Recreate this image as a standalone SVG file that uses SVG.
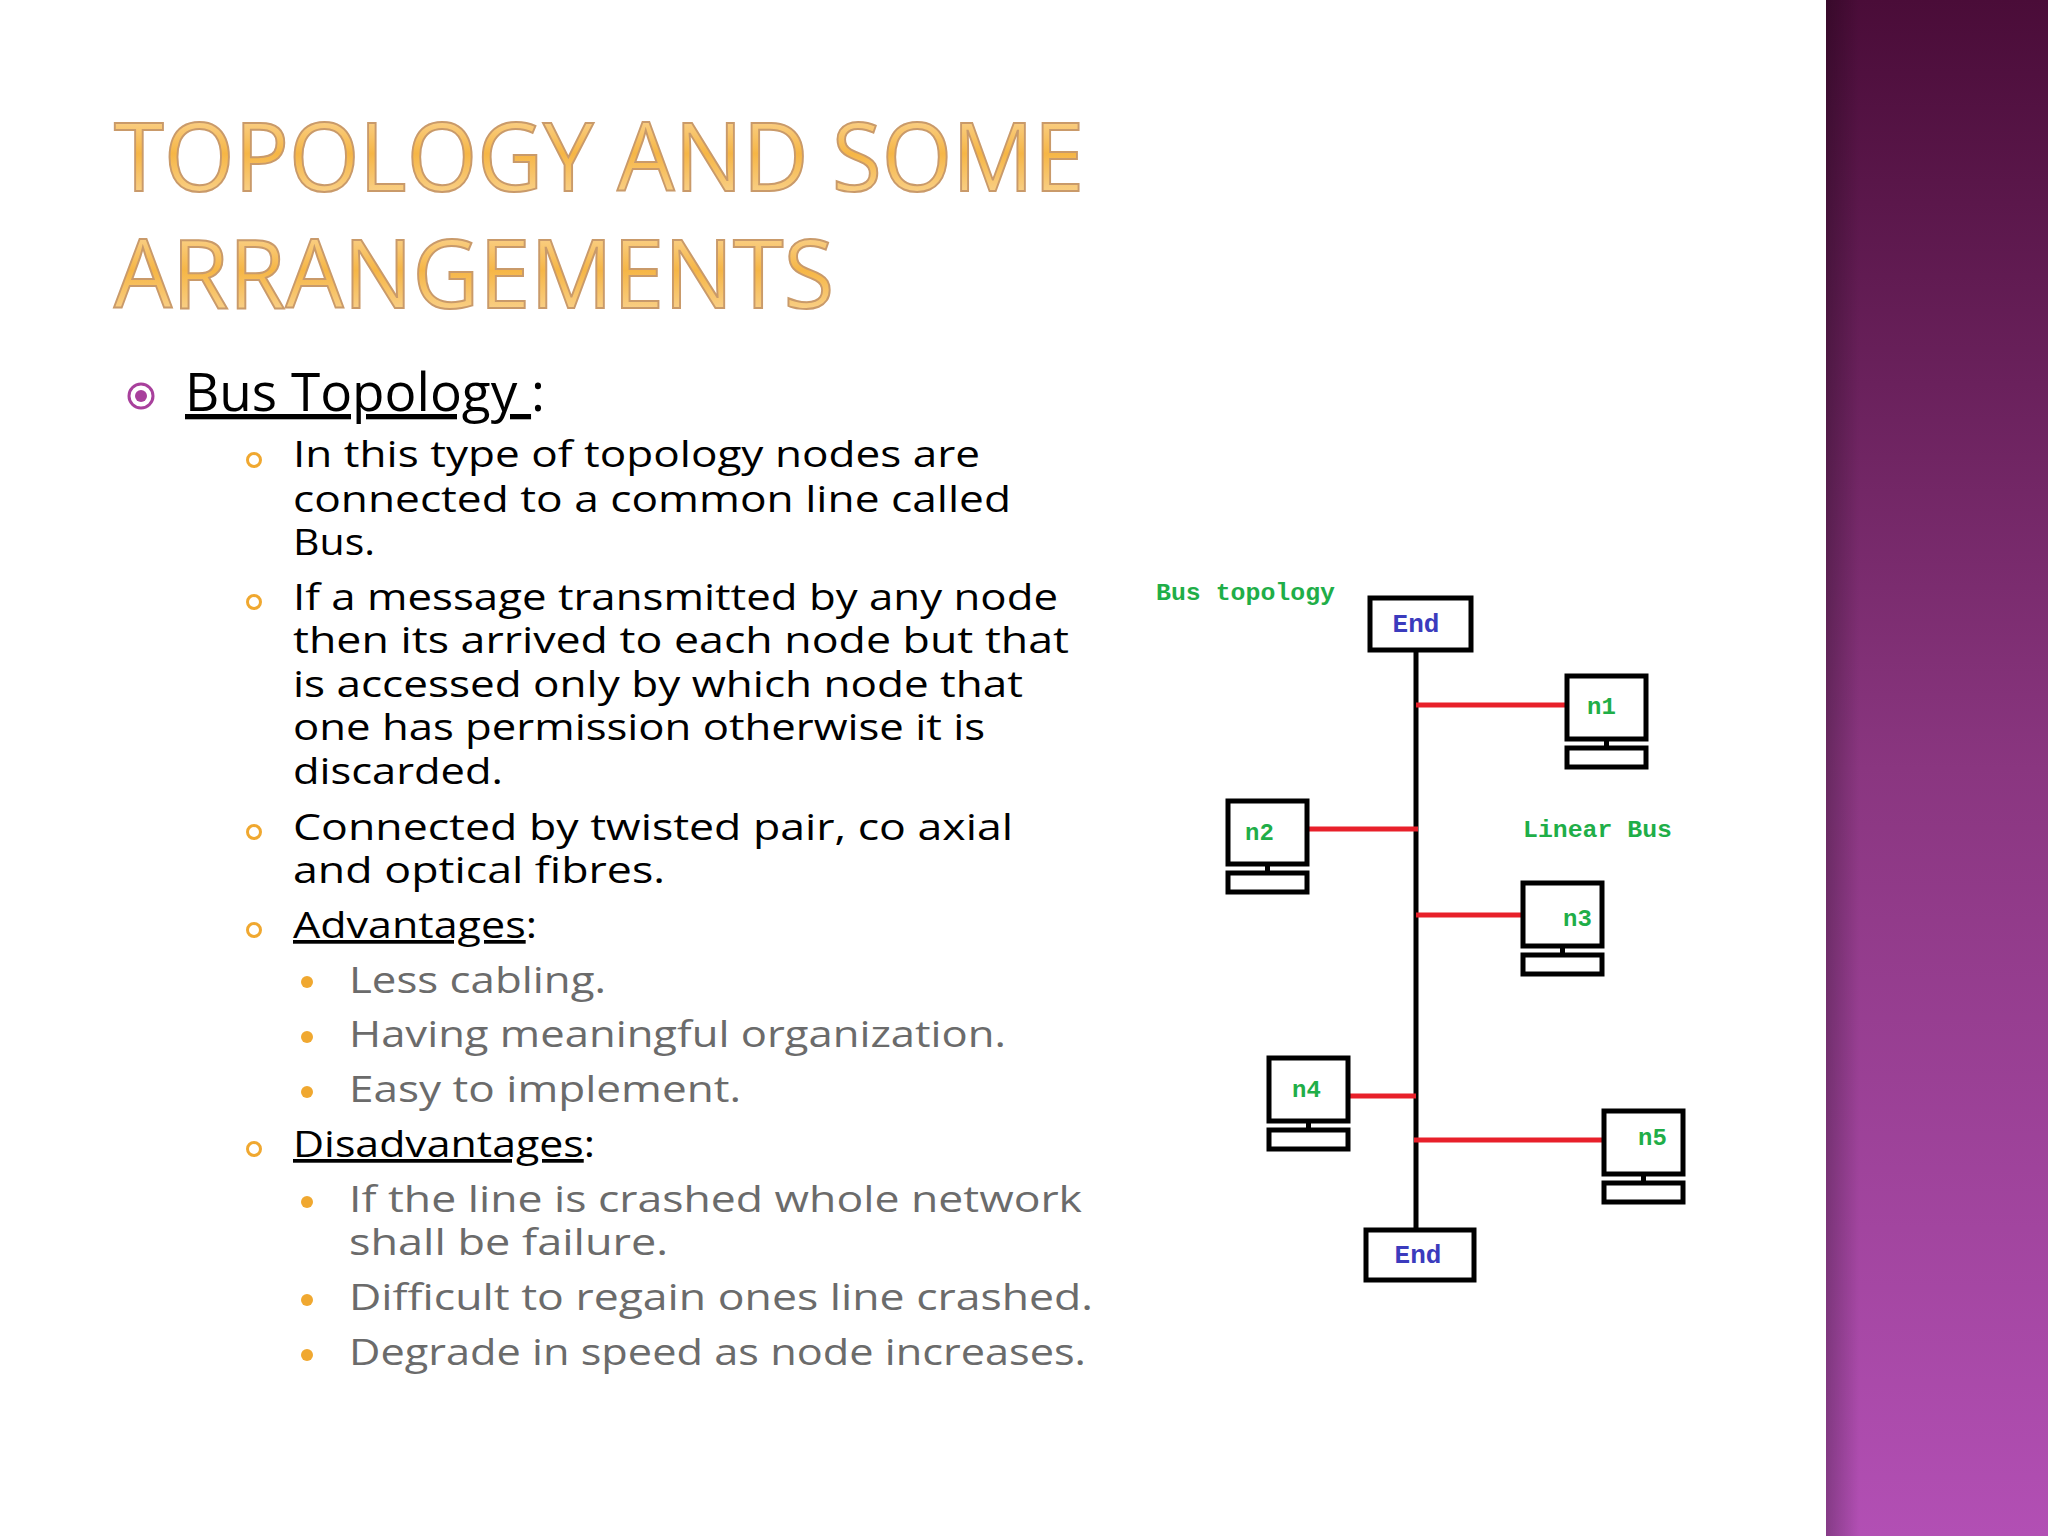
<svg xmlns="http://www.w3.org/2000/svg" width="2048" height="1536" viewBox="0 0 2048 1536">
<defs>
<linearGradient id="band" x1="0" y1="0" x2="0" y2="1"><stop offset="0" stop-color="#4a0c38"/><stop offset="0.5" stop-color="#8a3680"/><stop offset="1" stop-color="#b24fb4"/></linearGradient>
<linearGradient id="bandEdge" x1="0" y1="0" x2="1" y2="0"><stop offset="0" stop-color="#000" stop-opacity="0.25"/><stop offset="0.15" stop-color="#000" stop-opacity="0"/></linearGradient>
<linearGradient id="gold" x1="0" y1="0" x2="0" y2="1"><stop offset="0" stop-color="#fde6c0"/><stop offset="0.5" stop-color="#f6b646"/><stop offset="1" stop-color="#fbe0b0"/></linearGradient>
<symbol id="pc" overflow="visible">
<rect x="0" y="0" width="79" height="63" fill="#fff" stroke="#000" stroke-width="5"/>
<line x1="39.5" y1="63" x2="39.5" y2="72" stroke="#000" stroke-width="5"/>
<rect x="0" y="72" width="79" height="19" fill="#fff" stroke="#000" stroke-width="5"/>
</symbol>
</defs>
<style>
.title{font-family:"Open Sans","Liberation Sans",sans-serif;font-size:96px;fill:url(#gold);stroke:#c99a6a;stroke-width:2}
.t{font-family:"Open Sans","Liberation Sans",sans-serif;font-size:37px;fill:#000}
.g{font-family:"Open Sans","Liberation Sans",sans-serif;font-size:37px;fill:#6b6b6b}
.lab{font-family:"Liberation Mono",monospace;font-weight:bold;font-size:24px;fill:#1fae48}
.end{font-family:"Liberation Mono",monospace;font-weight:bold;font-size:26px;fill:#3b3bbd;text-anchor:middle}
.bus{stroke:#000;stroke-width:5}
.red{stroke:#e8202a;stroke-width:5}
</style>
<rect width="2048" height="1536" fill="#fff"/>
<rect x="1826" y="0" width="222" height="1536" fill="url(#band)"/>
<rect x="1826" y="0" width="222" height="1536" fill="url(#bandEdge)"/>
<text class="title" x="114" y="191" textLength="970" lengthAdjust="spacingAndGlyphs">TOPOLOGY AND SOME</text>
<text class="title" x="114" y="308" textLength="720" lengthAdjust="spacingAndGlyphs">ARRANGEMENTS</text>
<circle cx="141" cy="396" r="12" fill="none" stroke="#a8409c" stroke-width="3"/>
<circle cx="141" cy="396" r="6" fill="#a8409c"/>
<text x="185" y="411" style="font-family:'Open Sans','Liberation Sans',sans-serif;font-size:53px" textLength="360" lengthAdjust="spacingAndGlyphs"><tspan text-decoration="underline">Bus Topology </tspan>:</text>
<g fill="none" stroke="#f0a830" stroke-width="3">
<circle cx="254" cy="460" r="6.5"/><circle cx="254" cy="602" r="6.5"/><circle cx="254" cy="832" r="6.5"/><circle cx="254" cy="930" r="6.5"/><circle cx="254" cy="1149" r="6.5"/>
</g>
<g fill="#f0a830">
<circle cx="307" cy="982" r="6"/><circle cx="307" cy="1037" r="6"/><circle cx="307" cy="1092" r="6"/><circle cx="307" cy="1202" r="6"/><circle cx="307" cy="1300" r="6"/><circle cx="307" cy="1355" r="6"/>
</g>
<text class="t" x="293" y="467" textLength="687" lengthAdjust="spacingAndGlyphs">In this type of topology nodes are</text>
<text class="t" x="293" y="512" textLength="718" lengthAdjust="spacingAndGlyphs">connected to a common line called</text>
<text class="t" x="293" y="555" textLength="82" lengthAdjust="spacingAndGlyphs">Bus.</text>
<text class="t" x="293" y="610" textLength="765" lengthAdjust="spacingAndGlyphs">If a message transmitted by any node</text>
<text class="t" x="293" y="653" textLength="776" lengthAdjust="spacingAndGlyphs">then its arrived to each node but that</text>
<text class="t" x="293" y="697" textLength="730" lengthAdjust="spacingAndGlyphs">is accessed only by which node that</text>
<text class="t" x="293" y="740" textLength="692" lengthAdjust="spacingAndGlyphs">one has permission otherwise it is</text>
<text class="t" x="293" y="784" textLength="210" lengthAdjust="spacingAndGlyphs">discarded.</text>
<text class="t" x="293" y="840" textLength="720" lengthAdjust="spacingAndGlyphs">Connected by twisted pair, co axial</text>
<text class="t" x="293" y="883" textLength="372" lengthAdjust="spacingAndGlyphs">and optical fibres.</text>
<text class="t" x="293" y="938" textLength="244" lengthAdjust="spacingAndGlyphs"><tspan text-decoration="underline">Advantages</tspan>:</text>
<text class="g" x="349" y="993" textLength="257" lengthAdjust="spacingAndGlyphs">Less cabling.</text>
<text class="g" x="349" y="1047" textLength="657" lengthAdjust="spacingAndGlyphs">Having meaningful organization.</text>
<text class="g" x="349" y="1102" textLength="392" lengthAdjust="spacingAndGlyphs">Easy to implement.</text>
<text class="t" x="293" y="1157" textLength="302" lengthAdjust="spacingAndGlyphs"><tspan text-decoration="underline">Disadvantages</tspan>:</text>
<text class="g" x="349" y="1212" textLength="733" lengthAdjust="spacingAndGlyphs">If the line is crashed whole network</text>
<text class="g" x="349" y="1255" textLength="319" lengthAdjust="spacingAndGlyphs">shall be failure.</text>
<text class="g" x="349" y="1310" textLength="744" lengthAdjust="spacingAndGlyphs">Difficult to regain ones line crashed.</text>
<text class="g" x="349" y="1365" textLength="737" lengthAdjust="spacingAndGlyphs">Degrade in speed as node increases.</text>

<text class="lab" x="1156" y="600" textLength="179" lengthAdjust="spacingAndGlyphs">Bus topology</text>
<text class="lab" x="1523" y="837" textLength="149" lengthAdjust="spacingAndGlyphs">Linear Bus</text>

<g id="connectors">
<line class="bus" x1="1416" y1="650" x2="1416" y2="1230"/>
<line class="red" x1="1416" y1="705" x2="1567" y2="705"/>
<line class="red" x1="1307" y1="829" x2="1418" y2="829"/>
<line class="red" x1="1416" y1="915" x2="1523" y2="915"/>
<line class="red" x1="1348" y1="1096" x2="1416" y2="1096"/>
<line class="red" x1="1414" y1="1140" x2="1604" y2="1140"/>
</g>
<g id="endTop"><rect x="1370" y="598" width="101" height="52" fill="#fff" stroke="#000" stroke-width="5"/><text class="end" x="1416" y="632">End</text></g>
<g id="endBottom"><rect x="1366" y="1230" width="108" height="50" fill="#fff" stroke="#000" stroke-width="5"/><text class="end" x="1418" y="1263">End</text></g>
<g id="n1"><use href="#pc" x="1567" y="676"/><text class="lab" x="1587" y="714">n1</text></g>
<g id="n2"><use href="#pc" x="1228" y="801"/><text class="lab" x="1245" y="840">n2</text></g>
<g id="n3"><use href="#pc" x="1523" y="883"/><text class="lab" x="1563" y="926">n3</text></g>
<g id="n4"><use href="#pc" x="1269" y="1058"/><text class="lab" x="1292" y="1097">n4</text></g>
<g id="n5"><use href="#pc" x="1604" y="1111"/><text class="lab" x="1638" y="1145">n5</text></g>
</svg>
